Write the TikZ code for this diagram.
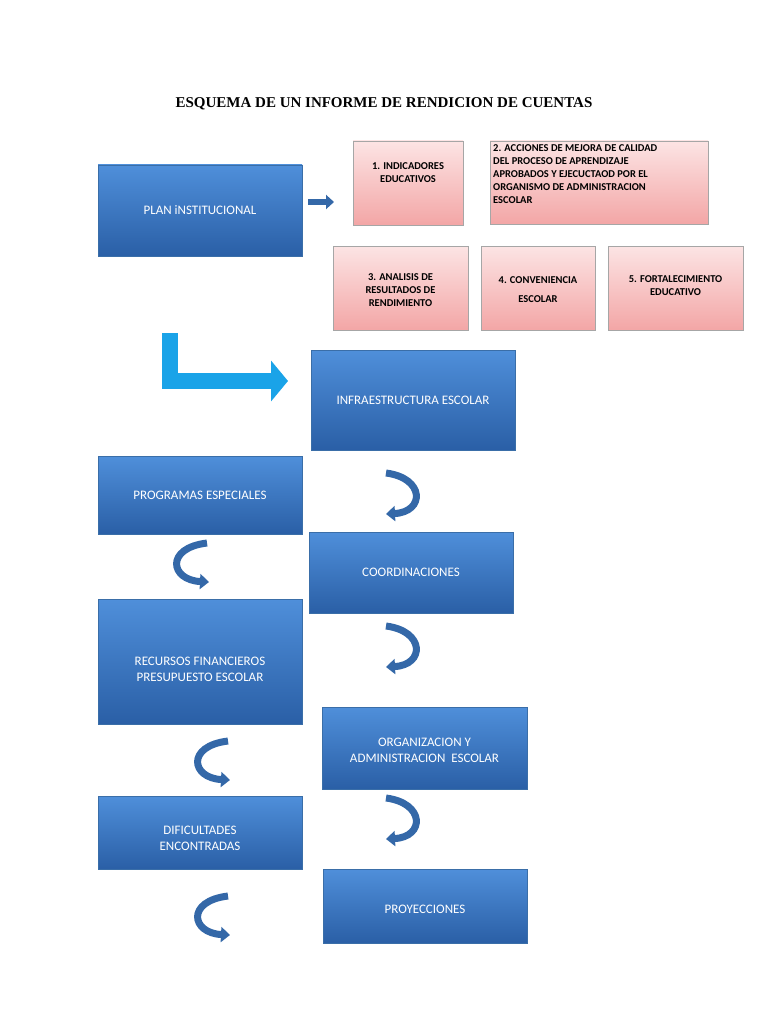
\documentclass[tikz,border=0pt]{standalone}
\usepackage{fontspec}
\setmainfont{Carlito}
\newfontfamily\titlefont{Liberation Serif}
\usetikzlibrary{arrows.meta}
\definecolor{boxtop}{HTML}{4F8FDA}
\definecolor{boxbot}{HTML}{2A5FA6}
\definecolor{boxline}{HTML}{3A6EA8}
\definecolor{pinktop}{HTML}{FCE4E4}
\definecolor{pinkbot}{HTML}{F3A6A6}
\definecolor{curvecol}{HTML}{3468A8}
\definecolor{lcol}{HTML}{1AA3E8}
\tikzset{
  bluebox/.style={draw=boxline,top color=boxtop,bottom color=boxbot,text=white,align=center,font=\fontsize{13}{16}\selectfont},
  pinkbox/.style={draw=black!35,top color=pinktop,bottom color=pinkbot,font=\bfseries\fontsize{10.5}{13}\selectfont},
  turn/.style={line width=7pt,draw=curvecol,-{Triangle[length=9pt,width=15pt]}}
}
\begin{document}
\begin{tikzpicture}[x=1pt,y=-1pt]
    \useasboundingbox (0,0) rectangle (768,1024);
    \node[font=\titlefont\bfseries\fontsize{15}{18}\selectfont] (title) at (384,104) {ESQUEMA DE UN INFORME DE RENDICION DE CUENTAS};
    % boxes
    \draw[bluebox] (98,165) rectangle (302,256) node[midway] (plan) {PLAN iNSTITUCIONAL};
    \draw[pinkbox] (353,141) rectangle (463,225) node[midway,yshift=10pt,align=center] (ind) {1. INDICADORES\\EDUCATIVOS};
    \draw[pinkbox] (490,141) rectangle (708,224) node[pos=0,anchor=north west,align=left,inner sep=3pt] (acc) {2. ACCIONES DE MEJORA DE CALIDAD\\DEL PROCESO DE APRENDIZAJE\\APROBADOS Y EJECUCTAOD POR EL\\ORGANISMO DE ADMINISTRACION\\ESCOLAR};
    \draw[pinkbox] (333,246) rectangle (468,330) node[midway,yshift=-2pt,align=center] (ana) {3. ANALISIS DE\\RESULTADOS DE\\RENDIMIENTO};
    \draw[pinkbox] (481,246) rectangle (595,330) node[midway,yshift=-2pt,align=center] (conv) {4. CONVENIENCIA\\[6pt]ESCOLAR};
    \draw[pinkbox] (608,246) rectangle (743,330) node[midway,yshift=2pt,align=center] (fort) {5. FORTALECIMIENTO\\EDUCATIVO};
    \draw[bluebox] (311,350) rectangle (515,450) node[midway] (infra) {INFRAESTRUCTURA ESCOLAR};
    \draw[bluebox] (98,456) rectangle (302,534) node[midway] (prog) {PROGRAMAS ESPECIALES};
    \draw[bluebox] (309,532) rectangle (513,613) node[midway] (coord) {COORDINACIONES};
    \draw[bluebox] (98,599) rectangle (302,724) node[midway,yshift=-8pt] (recu) {RECURSOS FINANCIEROS\\PRESUPUESTO ESCOLAR};
    \draw[bluebox] (322,707) rectangle (527,789) node[midway,yshift=-2pt] (org) {ORGANIZACION Y\\ADMINISTRACION~ ESCOLAR};
    \draw[bluebox] (98,796) rectangle (302,869) node[midway,yshift=-6pt] (dif) {DIFICULTADES\\ENCONTRADAS};
    \draw[bluebox] (323,869) rectangle (527,943) node[midway,yshift=-3pt] (proy) {PROYECCIONES};
    % arrows
    \coordinate (pa) at (308,202);
    \coordinate (pb) at (334,202);
    \draw[line width=6pt,draw=curvecol,-{Triangle[length=8pt,width=14pt]}] (pa) -- (pb);
    \coordinate (la) at (170,333);
    \coordinate (lb) at (288,381);
    \draw[line width=16pt,draw=lcol,-{Triangle[length=17pt,width=40pt]}] (la) |- (lb);
    \draw[turn] (386,473) .. controls (425,478) and (425,512) .. (386,514);
    \draw[turn] (386,626) .. controls (425,631) and (425,665) .. (386,667);
    \draw[turn] (386,798) .. controls (425,803) and (425,837) .. (386,839);
    \draw[turn] (207,543) .. controls (165,548) and (170,580) .. (209,582);
    \draw[turn] (228,741) .. controls (186,746) and (191,778) .. (230,780);
    \draw[turn] (228,896) .. controls (186,901) and (191,933) .. (230,935);
\end{tikzpicture}
\end{document}
